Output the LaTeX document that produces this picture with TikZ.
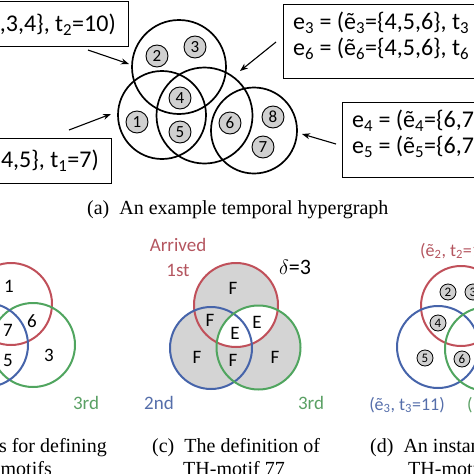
\documentclass[tikz,border=0pt]{standalone}
\usepackage{fontspec}
\setmainfont{Liberation Serif}
\newfontfamily\carl{Carlito}
\usetikzlibrary{arrows.meta}
\definecolor{cred}{RGB}{192,80,90}
\definecolor{cblue}{RGB}{70,100,170}
\definecolor{cgreen}{RGB}{80,165,95}
\definecolor{tred}{RGB}{180,85,95}
\definecolor{tblue}{RGB}{85,110,170}
\definecolor{tgreen}{RGB}{90,160,100}
\definecolor{vgray}{RGB}{208,208,208}
\definecolor{rgray}{RGB}{212,212,212}
\tikzset{
  hedge/.style={draw, circle, line width=1.7pt, inner sep=0pt, minimum size=#1},
  vert/.style={draw, circle, fill=vgray, line width=0.9pt, inner sep=0pt, minimum size=22pt, font=\carl\fontsize{17}{17}\selectfont},
  svert/.style={draw, circle, fill=vgray, line width=0.8pt, inner sep=0pt, minimum size=16pt, font=\carl\fontsize{13}{13}\selectfont},
  ebox/.style={draw, line width=0.9pt},
  etext/.style={font=\carl\fontsize{24}{26}\selectfont, inner sep=0pt, align=left},
  arr/.style={-{Stealth[length=8pt,width=6pt]}, line width=1.1pt},
  mc/.style={draw, circle, line width=2pt, inner sep=0pt, minimum size=#1},
  lab/.style={font=\carl\fontsize{19}{19}\selectfont, inner sep=0pt},
  slab/.style={font=\carl\fontsize{18}{18}\selectfont, inner sep=0pt},
  capt/.style={font=\fontsize{20}{23}\selectfont, inner sep=0pt},
}
\begin{document}
\begin{tikzpicture}[x=1pt,y=-1pt]
\useasboundingbox (0,0) rectangle (474,474);
\clip (0,0) rectangle (474,474);
% ---------- panel (a)
\node[hedge=94pt] (e2) at (179,67) {};
\node[hedge=88pt] (e1) at (162,115) {};
\node[hedge=96pt] (e3) at (204.5,115.5) {};
\node[hedge=86pt] (e4) at (254,130.5) {};
\node[vert] (v2) at (157,56) {2};
\node[vert] (v3) at (195,47) {3};
\node[vert] (v4) at (180,98) {4};
\node[vert] (v1) at (137,122) {1};
\node[vert] (v5) at (180,132) {5};
\node[vert] (v6) at (230,123) {6};
\node[vert] (v8) at (273,117) {8};
\node[vert] (v7) at (263,147) {7};
% boxes
\draw[ebox] (-200,1) rectangle (128,46);
\node[etext, anchor=east] (b2) at (116,25) {e\textsubscript{2} = (ẽ\textsubscript{2}=\{2,3,4\}, t\textsubscript{2}=10)};
\draw[ebox] (-200,138) rectangle (111,183);
\node[etext, anchor=east] (b1) at (99,161) {e\textsubscript{1} = (ẽ\textsubscript{1}=\{1,4,5\}, t\textsubscript{1}=7)};
\draw[ebox] (283,4) rectangle (600,78);
\node[etext, anchor=north west] (b3) at (293,12) {e\textsubscript{3} = (ẽ\textsubscript{3}=\{4,5,6\}, t\textsubscript{3}\\e\textsubscript{6} = (ẽ\textsubscript{6}=\{4,5,6\}, t\textsubscript{6}};
\draw[ebox] (342,102) rectangle (600,177);
\node[etext, anchor=north west] (b4) at (352,110) {e\textsubscript{4} = (ẽ\textsubscript{4}=\{6,7,8\}, t\textsubscript{4}\\e\textsubscript{5} = (ẽ\textsubscript{5}=\{6,7,8\}, t\textsubscript{5}};
\coordinate (a2s) at (88,50); \coordinate (a2e) at (129,64);
\coordinate (a1s) at (69,130); \coordinate (a1e) at (111,114);
\coordinate (a3s) at (276,42); \coordinate (a3e) at (240,71);
\coordinate (a4s) at (336,144); \coordinate (a4e) at (302,134);
\draw[arr] (a2s) -- (a2e);
\draw[arr] (a1s) -- (a1e);
\draw[arr] (a3s) -- (a3e);
\draw[arr] (a4s) -- (a4e);
\node[capt, anchor=base west] (capa) at (87,214) {(a)\ \ An example temporal hypergraph};
% ---------- panel (b)
\node[mc=82pt, draw=cred] (br) at (11,304) {};
\node[mc=84pt, draw=cgreen] (bg) at (33,345) {};
\node[mc=84pt, draw=cblue] (bb) at (-14,345) {};
\node[lab] at (9,286) {1};
\node[lab] at (32,321) {6};
\node[lab] at (8,330) {7};
\node[lab] at (8,360) {5};
\node[lab] at (49,355) {3};
\node[lab, text=tgreen] (b3rd) at (86,403) {3rd};
\node[capt, anchor=base east] at (107,452) {s for defining};
\node[capt, anchor=base east] at (52,475) {TH-motifs};
% ---------- panel (c)
\fill[rgray] (236,305) circle (42);
\fill[rgray] (211,348) circle (41);
\fill[rgray] (258.5,347.5) circle (42);
\begin{scope}
\clip (236,305) circle (42);
\fill[white] (258.5,347.5) circle (42);
\end{scope}
\node[mc=84pt, draw=cred] (cr) at (236,305) {};
\node[mc=82pt, draw=cblue] (cb) at (211,348) {};
\node[mc=84pt, draw=cgreen] (cg) at (258.5,347.5) {};
\node[lab] at (233,288) {F};
\node[lab] at (210,320) {F};
\node[lab] at (257,322) {E};
\node[lab] at (235,333) {E};
\node[lab] at (197,357) {F};
\node[lab] at (233,360) {F};
\node[lab] at (275,357) {F};
\node[lab, text=tred] (arrived) at (178,245) {Arrived};
\node[lab, text=tred] (first) at (178,270) {1st};
\node[lab, font=\carl\fontsize{22}{22}\selectfont] (delta) at (295,267) {$\delta$=3};
\node[lab, text=tblue] (c2nd) at (159,403) {2nd};
\node[lab, text=tgreen] (c3rd) at (311,403) {3rd};
\node[capt, anchor=base west] at (152,452) {(c)\ \ The definition of};
\node[capt, anchor=base west] at (183,475) {TH-motif 77};
% ---------- panel (d)
\node[mc=80pt, draw=cred] (dr) at (461,306) {};
\node[mc=82pt, draw=cblue] (db) at (438,347) {};
\node[mc=84pt, draw=cgreen] (dg) at (487,349) {};
\node[svert] (d2) at (448,292) {2};
\node[svert] (d3) at (473,292) {3};
\node[svert] (d4) at (438,323) {4};
\node[svert] (d5) at (425,358) {5};
\node[svert] (d6) at (462,359) {6};
\node[slab, text=tred, anchor=west] (dl2) at (420,251) {(ẽ\textsubscript{2}, t\textsubscript{2}=10)};
\node[slab, text=tblue] (dl3) at (407,405) {(ẽ\textsubscript{3}, t\textsubscript{3}=11)};
\node[slab, text=tgreen, anchor=west] (dl4) at (467,405) {(};
\node[capt, anchor=base west] at (370,452) {(d)\ \ An instance of};
\node[capt, anchor=base west] at (408,475) {TH-motif 77};
\end{tikzpicture}
\end{document}
